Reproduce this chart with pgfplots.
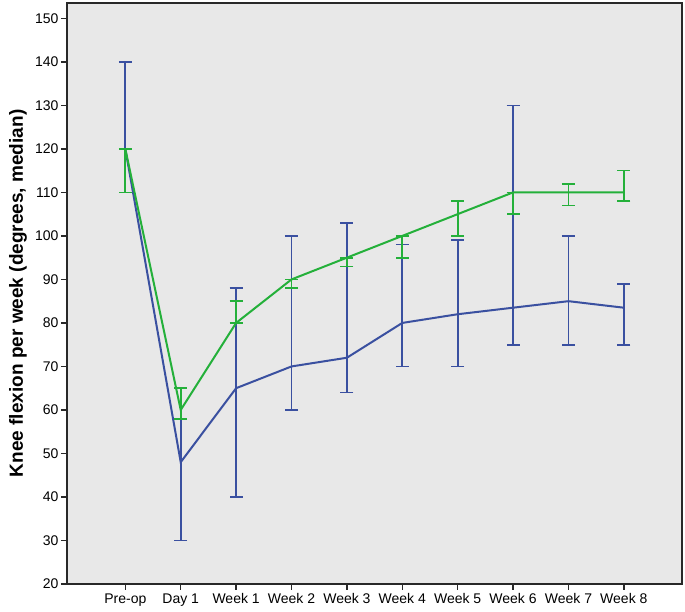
\documentclass[border=0pt]{standalone}
\usepackage{fontspec}
\setmainfont{Liberation Sans}
\usepackage{pgfplots}
\usepackage{pgfplotstable}
\pgfplotsset{compat=1.18}
\definecolor{sblue}{RGB}{58,80,160}
\definecolor{sgreen}{RGB}{36,176,58}
\definecolor{bgc}{RGB}{232,232,232}
\definecolor{axc}{RGB}{40,40,40}

% x  median  plus  minus
\pgfplotstableread{
x y ep em
0 120 20 10
1 48 17 18
2 65 23 25
3 70 30 10
4 72 31 8
5 80 18 10
6 82 17 12
7 83.5 46.5 8.5
8 85 15 10
9 83.5 5.5 8.5
}\blueTab
\pgfplotstableread{
x y ep em
0 120 0 10
1 60 5 2
2 80 5 0
3 90 0 2
4 95 0 2
5 100 0 5
6 105 3 5
7 110 0 5
8 110 2 3
9 110 5 2
}\greenTab

\begin{document}
\begin{tikzpicture}
\begin{axis}[name=ax, scale only axis, width=615pt, height=581.3pt,
  xmin=-1.053, xmax=10.05, ymin=20, ymax=153.6,
  xtick={0,...,9},
  xticklabels={Pre-op,Day 1,Week 1,Week 2,Week 3,Week 4,Week 5,Week 6,Week 7,Week 8},
  ytick={20,30,...,150},
  tick align=outside, tick pos=left, major tick length=6pt,
  axis background/.style={fill=bgc},
  axis line style={line width=1.8pt, axc},
  every tick/.style={line width=1.5pt, axc},
  ticklabel style={font=\fontsize{14}{16}\selectfont, text=black},
  /pgf/number format/assume math mode=true,
  yticklabel style={xshift=1pt},
  ylabel={Knee flexion per week (degrees, median)},
  every axis y label/.style={at={([xshift=-49pt]axis description cs:0,0.5)}, rotate=90, anchor=center,
    font=\fontsize{19}{22}\selectfont\bfseries},
  clip=false,
]
\addplot[sblue, line width=2pt, error bars/.cd, y dir=both, y explicit,
  error bar style={line width=1.7pt, sblue},
  error mark options={rotate=90, mark size=6.5pt, line width=1.7pt, sblue}]
  table[x=x, y=y, y error plus=ep, y error minus=em]{\blueTab};
\addplot[sgreen, line width=2pt, error bars/.cd, y dir=both, y explicit,
  error bar style={line width=1.7pt, sgreen},
  error mark options={rotate=90, mark size=6.5pt, line width=1.7pt, sgreen}]
  table[x=x, y=y, y error plus=ep, y error minus=em]{\greenTab};
\end{axis}
\pgfresetboundingbox
\path ([shift={(-67pt,-28pt)}]ax.south west) rectangle ([shift={(3pt,2.7pt)}]ax.north east);
\end{tikzpicture}
\end{document}
